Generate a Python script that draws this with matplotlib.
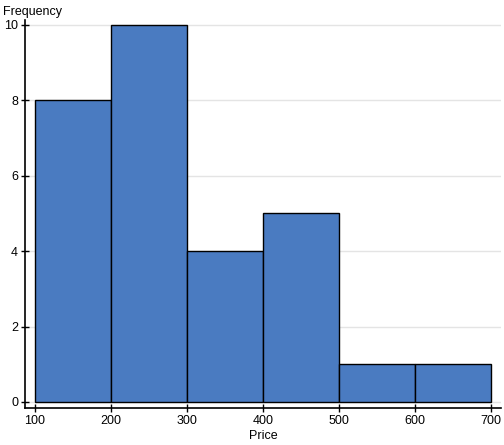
import matplotlib
matplotlib.use('Agg')
import matplotlib.pyplot as plt

# Histogram of prices
bin_edges = [100, 200, 300, 400, 500, 600, 700]
counts = [8, 10, 4, 5, 1, 1]
x_ticks = [100, 200, 300, 400, 500, 600, 700]
y_ticks = [0, 2, 4, 6, 8, 10]

plt.rcParams['font.family'] = ['Liberation Sans', 'DejaVu Sans']

fig = plt.figure(figsize=(5.04, 4.45), dpi=100)
ax = fig.add_axes([25 / 504, 37 / 445, 476 / 504, 388 / 445])

lefts = bin_edges[:-1]
widths = [b - a for a, b in zip(bin_edges[:-1], bin_edges[1:])]
ax.bar(lefts, counts, width=widths, align='edge', color='#4a7bc1',
       edgecolor='black', linewidth=1, zorder=3)

ax.set_xlim(86.8, 713.2)
ax.set_ylim(-0.16, 10.13)
ax.set_xticks(x_ticks)
ax.set_yticks(y_ticks)
ax.grid(axis='y', color='#e4e4e4', linewidth=1, zorder=0)

for s in ['top', 'right']:
    ax.spines[s].set_visible(False)
for s in ['left', 'bottom']:
    ax.spines[s].set_linewidth(1.2)
ax.tick_params(direction='inout', length=6, width=1, labelsize=9, pad=2)

ax.set_xlabel('Price', fontsize=9, labelpad=2)
fig.text(3 / 504, 1 - 12 / 445, 'Frequency', fontsize=9, ha='left', va='center')

fig.savefig('out.png', dpi=100)
plt.close(fig)
